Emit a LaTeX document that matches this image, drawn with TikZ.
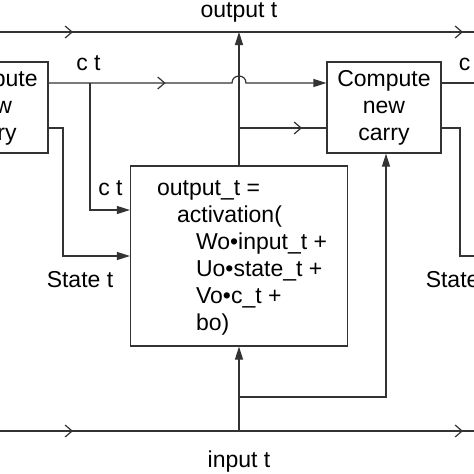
\documentclass[tikz,border=0pt]{standalone}
\usepackage{fontspec}
\setmainfont{Liberation Sans}
\usetikzlibrary{arrows.meta,decorations.markings}
\tikzset{
  barb/.tip={Straight Barb[length=7pt,width=12pt]},
  wire/.style={line width=1.2pt, draw=black!80},
  fillarrow/.style={-{Triangle[length=13pt,width=8pt]}},
  box/.style={draw=black!80, line width=1.2pt, minimum width=114pt, minimum height=91pt, align=center, inner sep=0pt},
  chevone/.style={postaction={decorate}, decoration={markings, mark=at position #1 with {\arrow{barb}}}},
  chevtwo/.style 2 args={postaction={decorate}, decoration={markings, mark=at position #1 with {\arrow{barb}}, mark=at position #2 with {\arrow{barb}}}},
  lbl/.style={inner sep=0pt, font=\fontsize{23}{27}\selectfont},
}
\begin{document}
\begin{tikzpicture}[x=1pt, y=-1pt, font=\fontsize{23}{27}\selectfont]
\useasboundingbox (0,0) rectangle (474,474);
% row coordinates
\coordinate (tl) at (0,32);
\coordinate (tr) at (474,32);
\coordinate (bl) at (0,431);
\coordinate (br) at (474,431);
\coordinate (r1) at (0,83);
\coordinate (r2) at (0,128);
% boxes
\node[box] (leftbox) at (-9,107.5) {Compute\\new\\carry};
\node[box] (rightbox) at (384,107.5) {Compute\\new\\carry};
\node[draw=black!80, line width=1.2pt, minimum width=217pt, minimum height=180pt, inner sep=0pt] (midbox) at (239,256) {};
\node[anchor=west, align=left, inner sep=0pt] (midtext) at ([xshift=27pt, yshift=-2pt]midbox.west)
  {output\_t =\\\hspace*{20pt}activation(\\\hspace*{39pt}Wo•input\_t +\\\hspace*{39pt}Uo•state\_t +\\\hspace*{39pt}Vo•c\_t +\\\hspace*{39pt}bo)};
% helper coordinates
\coordinate (ctsplit) at (90,83);
\coordinate (ctdown) at (90,210);
\coordinate (stl) at (63,128);
\coordinate (stldown) at (63,256);
\coordinate (outsplit) at (239,128);
\coordinate (str) at (460,128);
\coordinate (strdown) at (460,256);
\coordinate (strend) at (474,256);
\coordinate (ctend) at (474,83);
\coordinate (insplit) at (239,431);
\coordinate (insplit2) at (239,397);
\coordinate (incorner) at (386,397);
\coordinate (hopa) at (232,83);
\coordinate (hopb) at (246,83);
% top output line
\draw[wire, chevtwo={73pt}{463pt}] (tl) -- (tr);
% bottom input line
\draw[wire, chevtwo={73pt}{463pt}] (bl) -- (br);
% output vertical
\draw[wire, fillarrow] (midbox.north) -- (midbox.north |- tl);
% c t line with hop
\draw[wire, fillarrow, chevone={117pt}] (leftbox.east |- r1) -- (hopa) .. controls (232,73.7) and (246,73.7) .. (hopb) -- (rightbox.west |- r1);
% c t branch into middle box
\draw[wire, fillarrow] (ctsplit) -- (ctdown) -- (midbox.west |- ctdown);
% state t into middle box
\draw[wire, fillarrow] (leftbox.east |- r2) -- (stl) -- (stldown) -- (midbox.west |- stldown);
% output to right carry box
\draw[wire, chevone={63pt}] (outsplit) -- (rightbox.west |- r2);
% right box outputs
\draw[wire] (rightbox.east |- r1) -- (ctend);
\draw[wire] (rightbox.east |- r2) -- (str) -- (strdown) -- (strend);
% input into middle box
\draw[wire, fillarrow] (insplit) -- (midbox.south);
% input into right box
\draw[wire, fillarrow] (insplit2) -- (incorner) -- (incorner |- rightbox.south);
% labels
\node[lbl] (lout) at (239,12) {output t};
\node[lbl] (lin) at (239,462) {input t};
\node[lbl] (lct1) at (88.5,63) {c t};
\node[lbl] (lct2) at (110.5,188) {c t};
\node[lbl] (lct3) at (471,63) {c t};
\node[lbl] (lst1) at (80,280) {State t};
\node[lbl] (lst2) at (459,280) {State t};
\end{tikzpicture}
\end{document}
